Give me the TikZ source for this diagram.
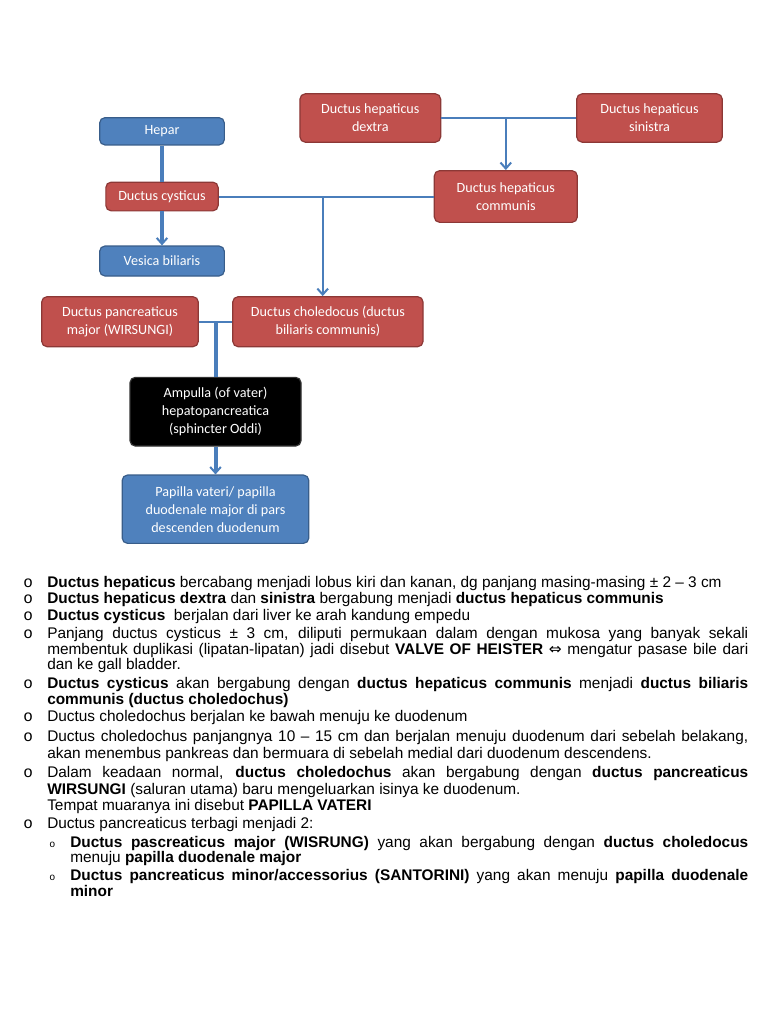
\documentclass[tikz,border=0pt]{standalone}
\usepackage{fontspec}
\setmainfont{Liberation Sans}
\newfontfamily\boxfont{Carlito}
\newfontfamily\bulfont{Liberation Mono}
\newfontfamily\symfont{DejaVu Sans}
\usetikzlibrary{arrows.meta}
\definecolor{boxred}{HTML}{C0504D}
\definecolor{boxredline}{HTML}{8C3836}
\definecolor{boxblue}{HTML}{4F81BD}
\definecolor{boxblueline}{HTML}{385D8A}
\definecolor{conn}{HTML}{4A7EBB}
\newcommand\itembul{\llap{\makebox[18pt][l]{\bulfont\fontsize{12}{12}\selectfont o}}}
\newcommand\subitembul{\llap{\makebox[15.75pt][l]{\bulfont\fontsize{7.5}{8}\selectfont o}}}
\begin{document}
\begin{tikzpicture}[x=0.75pt,y=-0.75pt,
  flow/.style={rounded corners=4pt, line width=0.9pt, inner sep=0pt, align=center, text=white,
    font=\boxfont\fontsize{10.6}{13.5}\selectfont},
  redbox/.style={flow, fill=boxred, draw=boxredline},
  bluebox/.style={flow, fill=boxblue, draw=boxblueline},
  blackbox/.style={flow, fill=black, draw=black!80},
  sz/.style 2 args={minimum width=#1*0.75pt, minimum height=#2*0.75pt},
  link/.style={draw=conn, line width=1.5pt},
  heavy/.style={draw=conn, line width=3pt},
  arrowend/.style={-{Straight Barb[length=4.5pt,width=8pt,line width=1.5pt]}},
  txt/.style={anchor=base west, inner sep=0pt, font=\fontsize{11.55}{12}\selectfont}
]
\fill[white] (0,0) rectangle (768,1024);
\path[use as bounding box] (0,0) rectangle (768,1024);

% flow chart boxes
\node[bluebox, sz={124.7}{27.3}] (hepar) at (162,131.3) {Hepar};
\node[redbox, sz={112.3}{28.7}] (cyst) at (162,196.5) {Ductus cysticus};
\node[bluebox, sz={124.7}{30}] (vesica) at (162,261) {Vesica biliaris};
\node[redbox, sz={140.7}{48.4}] (dextra) at (370.3,118) {Ductus hepaticus\\dextra};
\node[redbox, sz={145.6}{48.3}] (sinistra) at (649.5,118) {Ductus hepaticus\\sinistra};
\node[redbox, sz={143}{51.7}] (communis) at (505.8,196.5) {Ductus hepaticus\\communis};
\node[redbox, sz={156.6}{50}] (pancreas) at (120,321.7) {Ductus pancreaticus\\major (WIRSUNGI)};
\node[redbox, sz={190.3}{50}] (choled) at (327.9,321.7) {Ductus choledocus (ductus\\biliaris communis)};
\node[blackbox, sz={171}{68.7}] (ampulla) at (215.5,411.7) {Ampulla (of vater)\\hepatopancreatica\\(sphincter Oddi)};
\node[bluebox, sz={186.6}{68.3}] (papilla) at (215.5,509.2) {Papilla vateri/ papilla\\duodenale major di pars\\descenden duodenum};

% connectors
\draw[heavy] (hepar.south) -- (cyst.north);
\draw[heavy, arrowend] (cyst.south) -- (vesica.north);
\draw[link] (dextra.east) -- (sinistra.west);
\draw[link, arrowend] (dextra.east -| communis.north) -- (communis.north);
\draw[link] (cyst.east) -- (communis.west);
\coordinate (jc) at (322.7,196.5);
\draw[link, arrowend] (jc) -- (jc |- choled.north);
\draw[link] (pancreas.east) -- (choled.west);
\coordinate (jp) at (ampulla.north |- pancreas.east);
\draw[heavy] (jp) -- (ampulla.north);
\draw[heavy, arrowend] (ampulla.south) -- (papilla.north);

% text
\node[txt] (t1) at (47,587) {\itembul\textbf{Ductus hepaticus} bercabang menjadi lobus kiri dan kanan, dg panjang masing-masing ± 2 – 3 cm};
\node[txt] (t2) at (47,603.5) {\itembul\textbf{Ductus hepaticus dextra} dan \textbf{sinistra} bergabung menjadi \textbf{ductus hepaticus communis}};
\node[txt] (t3) at (47,620) {\itembul\textbf{Ductus cysticus}\ \ berjalan dari liver ke arah kandung empedu};
\node[txt] (t4) at (47,638) {\itembul\makebox[525.75pt][s]{Panjang ductus cysticus ± 3 cm, diliputi permukaan dalam dengan mukosa yang banyak sekali}};
\node[txt] (t5) at (47,654) {\makebox[525.75pt][s]{membentuk duplikasi (lipatan-lipatan) jadi disebut \textbf{VALVE OF HEISTER} {\symfont ⇔} mengatur pasase bile dari}};
\node[txt] (t6) at (47,669.5) {dan ke gall bladder.};
\node[txt] (t7) at (47,688) {\itembul\makebox[525.75pt][s]{\textbf{Ductus cysticus} akan bergabung dengan \textbf{ductus hepaticus communis} menjadi \textbf{ductus biliaris}}};
\node[txt] (t8) at (47,704) {\textbf{communis (ductus choledochus)}};
\node[txt] (t9) at (47,721.5) {\itembul Ductus choledochus berjalan ke bawah menuju ke duodenum};
\node[txt] (t10) at (47,741.5) {\itembul\makebox[525.75pt][s]{Ductus choledochus panjangnya 10 – 15 cm dan berjalan menuju duodenum dari sebelah belakang,}};
\node[txt] (t11) at (47,758) {akan menembus pankreas dan bermuara di sebelah medial dari duodenum descendens.};
\node[txt] (t12) at (47,777) {\itembul\makebox[525.75pt][s]{Dalam keadaan normal, \textbf{ductus choledochus} akan bergabung dengan \textbf{ductus pancreaticus}}};
\node[txt] (t13) at (47,794) {\textbf{WIRSUNGI} (saluran utama) baru mengeluarkan isinya ke duodenum.};
\node[txt] (t14) at (47,810) {Tempat muaranya ini disebut \textbf{PAPILLA VATERI}};
\node[txt] (t15) at (47,828) {\itembul Ductus pancreaticus terbagi menjadi 2:};
\node[txt] (t16) at (70,847) {\subitembul\makebox[508.5pt][s]{\textbf{Ductus pascreaticus major (WISRUNG)} yang akan bergabung dengan \textbf{ductus choledocus}}};
\node[txt] (t17) at (70,862) {menuju \textbf{papilla duodenale major}};
\node[txt] (t18) at (70,880.5) {\subitembul\makebox[508.5pt][s]{\textbf{Ductus pancreaticus minor/accessorius (SANTORINI)} yang akan menuju \textbf{papilla duodenale}}};
\node[txt] (t19) at (70,896.5) {\textbf{minor}};
\end{tikzpicture}
\end{document}
